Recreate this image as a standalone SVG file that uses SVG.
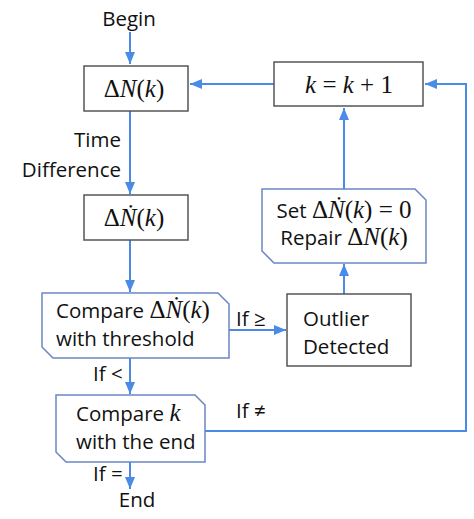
<svg xmlns="http://www.w3.org/2000/svg" width="474" height="519" viewBox="0 0 474 519">
<style>
.t{font-family:"Open Sans","Liberation Sans",sans-serif;font-size:20.5px;fill:#111}
.m{font-family:"Liberation Serif","DejaVu Serif",serif;font-size:25px;fill:#111}
.i{font-style:italic}
.box{fill:#fff;stroke:#555;stroke-width:1.5}
.cut{fill:#fff;stroke:#6a86c4;stroke-width:1.5}
.c{fill:none;stroke:#4a8be8;stroke-width:2}
</style>
<defs>
<marker id="a" markerWidth="12" markerHeight="10" refX="12" refY="5" orient="auto" markerUnits="userSpaceOnUse">
<path d="M0,0 L12,5 L0,10 Z" fill="#4a8be8"/>
</marker>
</defs>
<g id="connectors">
<line class="c" x1="130" y1="32" x2="130" y2="64" marker-end="url(#a)"/>
<line class="c" x1="130" y1="111" x2="130" y2="194" marker-end="url(#a)"/>
<line class="c" x1="130" y1="240" x2="130" y2="292" marker-end="url(#a)"/>
<line class="c" x1="130" y1="358" x2="130" y2="394" marker-end="url(#a)"/>
<line class="c" x1="130" y1="462" x2="130" y2="489" marker-end="url(#a)"/>
<line class="c" x1="229" y1="330" x2="286" y2="330" marker-end="url(#a)"/>
<line class="c" x1="344" y1="294" x2="344" y2="264" marker-end="url(#a)"/>
<line class="c" x1="344" y1="189" x2="344" y2="108" marker-end="url(#a)"/>
<line class="c" x1="274" y1="84" x2="190" y2="84" marker-end="url(#a)"/>
<polyline class="c" points="205,431 466,431 466,84 425,84" marker-end="url(#a)"/>
<text class="t" x="121" y="147" text-anchor="end">Time</text>
<text class="t" x="121" y="177" text-anchor="end">Difference</text>
<text class="t" x="93" y="381">If &lt;</text>
<text class="t" x="93" y="481">If =</text>
<text class="t" x="236" y="326">If ≥</text>
<text class="t" x="236" y="418">If ≠</text>
</g>
<g id="begin"><text class="t" x="129" y="26" text-anchor="middle">Begin</text></g>
<g id="end"><text class="t" x="137" y="507" text-anchor="middle">End</text></g>
<g id="dN">
<rect class="box" x="84" y="66" width="104" height="45"/>
<text class="m" x="134" y="97" text-anchor="middle">Δ<tspan class="i">N</tspan>(<tspan class="i">k</tspan>)</text>
</g>
<g id="dNdot">
<rect class="box" x="84" y="195" width="104" height="45"/>
<text class="m" x="134" y="226" text-anchor="middle">Δ<tspan class="i">Ṅ</tspan>(<tspan class="i">k</tspan>)</text>
</g>
<g id="cmp1">
<polygon class="cut" points="42,293 218,293 229,304 229,358 53,358 42,347"/>
<text class="t" x="56" y="318">Compare <tspan class="m">Δ<tspan class="i">Ṅ</tspan>(<tspan class="i">k</tspan>)</tspan></text>
<text class="t" x="56" y="346">with threshold</text>
</g>
<g id="cmp2">
<polygon class="cut" points="56,395 195,395 205,405 205,462 66,462 56,452"/>
<text class="t" x="76" y="421">Compare <tspan class="m i">k</tspan></text>
<text class="t" x="76" y="449">with the end</text>
</g>
<g id="outlier">
<rect class="box" x="287" y="294" width="124" height="72"/>
<text class="t" x="303" y="326">Outlier</text>
<text class="t" x="303" y="354">Detected</text>
</g>
<g id="set">
<polygon class="cut" points="262,189 415,189 426,200 426,263 274,263 262,251"/>
<text class="t" x="344" y="218" text-anchor="middle">Set <tspan class="m">Δ<tspan class="i">Ṅ</tspan>(<tspan class="i">k</tspan>) = 0</tspan></text>
<text class="t" x="344" y="245" text-anchor="middle">Repair <tspan class="m">Δ<tspan class="i">N</tspan>(<tspan class="i">k</tspan>)</tspan></text>
</g>
<g id="inc">
<rect class="box" x="274" y="62" width="149" height="44"/>
<text class="m" x="349" y="93" text-anchor="middle"><tspan class="i">k</tspan> = <tspan class="i">k</tspan> + 1</text>
</g>
</svg>
